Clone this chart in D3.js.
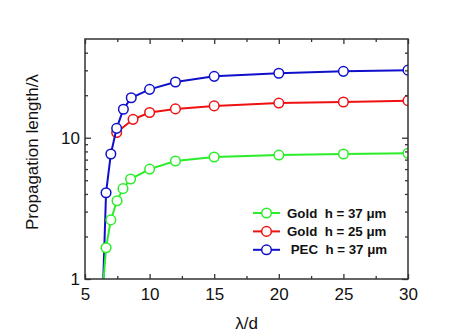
<!DOCTYPE html>
<html>
<head>
<meta charset="utf-8">
<script src="https://cdn.jsdelivr.net/npm/d3@7"></script>
<style>
  body { margin: 0; background: #fff; }
  text { font-family: Arial, "Liberation Sans", sans-serif; }
</style>
</head>
<body>
<svg id="chart" width="474" height="335"></svg>
<script>
// data
var goldX37 = [6.4, 6.63, 7.0, 7.48, 7.94, 8.53, 10, 12, 15, 20, 25, 30];
var goldY37 = [0.9, 1.665, 2.62, 3.58, 4.36, 5.1, 6.0, 6.84, 7.3, 7.54, 7.67, 7.76];
var goldX25 = [7.45, 8.72, 10, 12, 15, 20, 25, 30];
var goldY25 = [10.9, 13.5, 15.1, 16.0, 16.8, 17.6, 17.9, 18.3];
var pecX37 = [6.4, 6.63, 7.0, 7.45, 7.97, 8.58, 10, 12, 15, 20, 25, 30];
var pecY37 = [0.9, 4.08, 7.67, 11.65, 15.9, 19.2, 22.0, 24.8, 27.2, 28.6, 29.5, 30.1];
var xTicks = [5, 10, 15, 20, 25, 30];
var xMinor = [7.5, 12.5, 17.5, 22.5, 27.5];
var yTicks = [1, 10];
var yMinor = [2, 3, 4, 5, 6, 7, 8, 9, 20, 30, 40];
var legendLabels = ["Gold  h = 37 \u03bcm", "Gold  h = 25 \u03bcm", " PEC  h = 37 \u03bcm"];

var width = 474, height = 335,
    margins = {left: 85, right: 66, top: 39, bottom: 56};
var w = width - margins.left - margins.right,
    h = height - margins.top - margins.bottom;

var svg = d3.select("#chart");
var g = svg.append("g").attr("transform", "translate(" + margins.left + "," + margins.top + ")");

var xScale = d3.scaleLinear().domain([5, 30]).range([0, w]);
var yScale = d3.scaleLog().domain([1, 50]).range([h, 0]);

g.append("clipPath").attr("id", "clip")
    .append("rect").attr("width", w).attr("height", h);

var series = [
    {xs: goldX25, ys: goldY25, color: "#ee1111"},
    {xs: pecX37, ys: pecY37, color: "#1010cc"},
    {xs: goldX37, ys: goldY37, color: "#2aee2a"}
];

var line = d3.line()
    .x(d => xScale(d[0]))
    .y(d => yScale(d[1]));

var plot = g.append("g").attr("clip-path", "url(#clip)");

series.forEach(function(s) {
    var pts = s.xs.map((x, i) => [x, s.ys[i]]);
    plot.append("path")
        .attr("fill", "none")
        .attr("stroke", s.color)
        .attr("stroke-width", 2)
        .attr("d", line(pts));
    plot.selectAll(null)
        .data(pts.filter(d => d[1] >= 1))
        .enter().append("circle")
        .attr("cx", d => xScale(d[0]))
        .attr("cy", d => yScale(d[1]))
        .attr("r", 4.8)
        .attr("fill", "#fff")
        .attr("stroke", s.color)
        .attr("stroke-width", 1.5);
});

// axes, ticks inward
var axisColor = "#333";
function styleAxis(sel) {
    sel.selectAll("path").remove();
    sel.selectAll("line").attr("stroke", axisColor).attr("stroke-width", 1.3);
}

g.append("g").attr("transform", "translate(0," + h + ")")
    .call(d3.axisBottom(xScale).tickValues(xTicks).tickSize(-5).tickPadding(9).tickFormat(d3.format("d")))
    .call(styleAxis)
    .selectAll("text").attr("font-size", 17).attr("fill", "#111")
    .attr("font-family", "Arial, 'Liberation Sans', sans-serif");
g.append("g").attr("transform", "translate(0," + h + ")")
    .call(d3.axisBottom(xScale).tickValues(xMinor).tickSize(-3).tickFormat(""))
    .call(styleAxis);
g.append("g")
    .call(d3.axisTop(xScale).tickValues(xTicks).tickSize(-5).tickFormat(""))
    .call(styleAxis);
g.append("g")
    .call(d3.axisTop(xScale).tickValues(xMinor).tickSize(-3).tickFormat(""))
    .call(styleAxis);

g.append("g")
    .call(d3.axisLeft(yScale).tickValues(yTicks).tickSize(-6).tickPadding(5).tickFormat(d3.format("d")))
    .call(styleAxis)
    .selectAll("text").attr("font-size", 17).attr("fill", "#111")
    .attr("font-family", "Arial, 'Liberation Sans', sans-serif");
g.append("g")
    .call(d3.axisLeft(yScale).tickValues(yMinor).tickSize(-3).tickFormat(""))
    .call(styleAxis);
g.append("g").attr("transform", "translate(" + w + ",0)")
    .call(d3.axisRight(yScale).tickValues(yTicks).tickSize(-6).tickFormat(""))
    .call(styleAxis);
g.append("g").attr("transform", "translate(" + w + ",0)")
    .call(d3.axisRight(yScale).tickValues(yMinor).tickSize(-3).tickFormat(""))
    .call(styleAxis);

g.append("rect")
    .attr("width", w).attr("height", h)
    .attr("fill", "none")
    .attr("stroke", axisColor)
    .attr("stroke-width", 1.5);

// axis titles
svg.append("text")
    .attr("x", margins.left + w / 2)
    .attr("y", 329)
    .attr("text-anchor", "middle")
    .attr("font-size", 17)
    .attr("fill", "#111")
    .text("\u03bb/d");

svg.append("text")
    .attr("transform", "translate(38," + (margins.top + h / 2 - 7) + ") rotate(-90)")
    .attr("text-anchor", "middle")
    .attr("font-size", 17)
    .attr("fill", "#111")
    .text("Propagation length/\u03bb");

// legend
var legendColors = ["#2aee2a", "#ee1111", "#1010cc"];
var legend = svg.append("g").attr("transform", "translate(253,213)");
legendLabels.forEach(function(lab, i) {
    var row = legend.append("g").attr("transform", "translate(0," + (i * 18.4) + ")");
    row.append("line").attr("x1", 0).attr("x2", 27).attr("y1", 0).attr("y2", 0)
        .attr("stroke", legendColors[i]).attr("stroke-width", 2);
    row.append("circle").attr("cx", 13.5).attr("cy", 0).attr("r", 4.8)
        .attr("fill", "#fff").attr("stroke", legendColors[i]).attr("stroke-width", 1.5);
    row.append("text")
        .attr("x", 34).attr("y", 4.5)
        .attr("font-size", 13.3)
        .attr("font-weight", "bold")
        .attr("fill", "#111")
        .style("white-space", "pre")
        .text(lab);
});
</script>
</body>
</html>
